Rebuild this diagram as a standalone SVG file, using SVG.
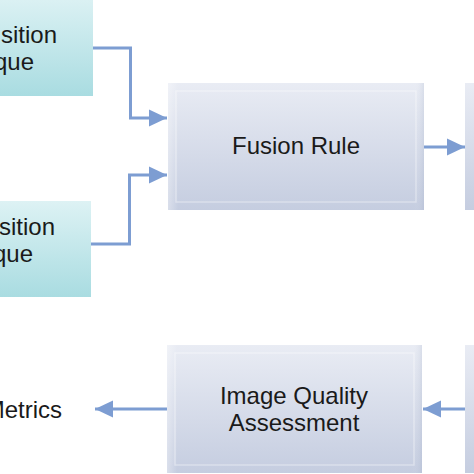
<svg xmlns="http://www.w3.org/2000/svg" width="474" height="474" viewBox="0 0 474 474">
  <defs>
    <linearGradient id="gTeal" x1="0" y1="0" x2="0" y2="1">
      <stop offset="0" stop-color="#ddf2f4"/>
      <stop offset="1" stop-color="#a9dce1"/>
    </linearGradient>
    <linearGradient id="gLav" x1="0" y1="0" x2="0" y2="1">
      <stop offset="0" stop-color="#e9ecf4"/>
      <stop offset="1" stop-color="#c5cde0"/>
    </linearGradient>
    <linearGradient id="gEdge" x1="0" y1="0" x2="1" y2="0">
      <stop offset="0" stop-color="#ffffff" stop-opacity="0.35"/>
      <stop offset="0.04" stop-color="#ffffff" stop-opacity="0"/>
      <stop offset="0.96" stop-color="#ffffff" stop-opacity="0"/>
      <stop offset="1" stop-color="#8090b0" stop-opacity="0.15"/>
    </linearGradient>
    <marker id="ah" markerWidth="6" markerHeight="6" refX="6" refY="3" orient="auto" markerUnits="strokeWidth">
      <path d="M0,0.2 L6,3 L0,5.8 Z" fill="#7d9dd2"/>
    </marker>
    <style>
      .teal { fill: url(#gTeal); }
      .lav { fill: url(#gLav); }
      .edge { fill: url(#gEdge); }
      .bevel { fill: none; stroke: #ffffff; stroke-opacity: 0.35; stroke-width: 1.5; }
      .t { font-family: "Liberation Sans", Arial, sans-serif; font-size: 24px; fill: #1a1a1a; }
      .c { fill: none; stroke: #7d9dd2; stroke-width: 3; marker-end: url(#ah); }
    </style>
  </defs>

  <g id="node-decomp-top">
    <rect class="teal" x="-10" y="-5" width="103" height="101"/>
    <text class="t" x="57" y="43" text-anchor="end">sition</text>
    <text class="t" x="34" y="70" text-anchor="end">que</text>
  </g>

  <g id="node-decomp-bottom">
    <rect class="teal" x="-10" y="201" width="101" height="96"/>
    <text class="t" x="55" y="235" text-anchor="end">sition</text>
    <text class="t" x="33" y="262" text-anchor="end">que</text>
  </g>

  <g id="node-fusion-rule">
    <rect class="lav" x="168" y="83" width="256" height="127"/>
    <rect class="edge" x="168" y="83" width="256" height="127"/>
    <rect class="bevel" x="176" y="91" width="240" height="111"/>
    <text class="t" x="296" y="154" text-anchor="middle">Fusion Rule</text>
  </g>

  <g id="node-right-top">
    <rect class="lav" x="465" y="83" width="20" height="127"/>
  </g>

  <g id="node-iqa">
    <rect class="lav" x="167" y="345" width="255" height="128"/>
    <rect class="edge" x="167" y="345" width="255" height="128"/>
    <rect class="bevel" x="175" y="353" width="239" height="112"/>
    <text class="t" x="294" y="404" text-anchor="middle">Image Quality</text>
    <text class="t" x="294" y="431" text-anchor="middle">Assessment</text>
  </g>

  <g id="node-right-bottom">
    <rect class="lav" x="465" y="345" width="20" height="128"/>
  </g>

  <g id="node-metrics">
    <text class="t" x="62" y="418" text-anchor="end">Metrics</text>
  </g>

  <g id="connectors">
    <path class="c" d="M93,48 H130.5 V118 H167"/>
    <path class="c" d="M91,244 H129.5 V175 H167"/>
    <path class="c" d="M424,147 H465"/>
    <path class="c" d="M465,409 H423"/>
    <path class="c" d="M167,409 H95"/>
  </g>
</svg>
